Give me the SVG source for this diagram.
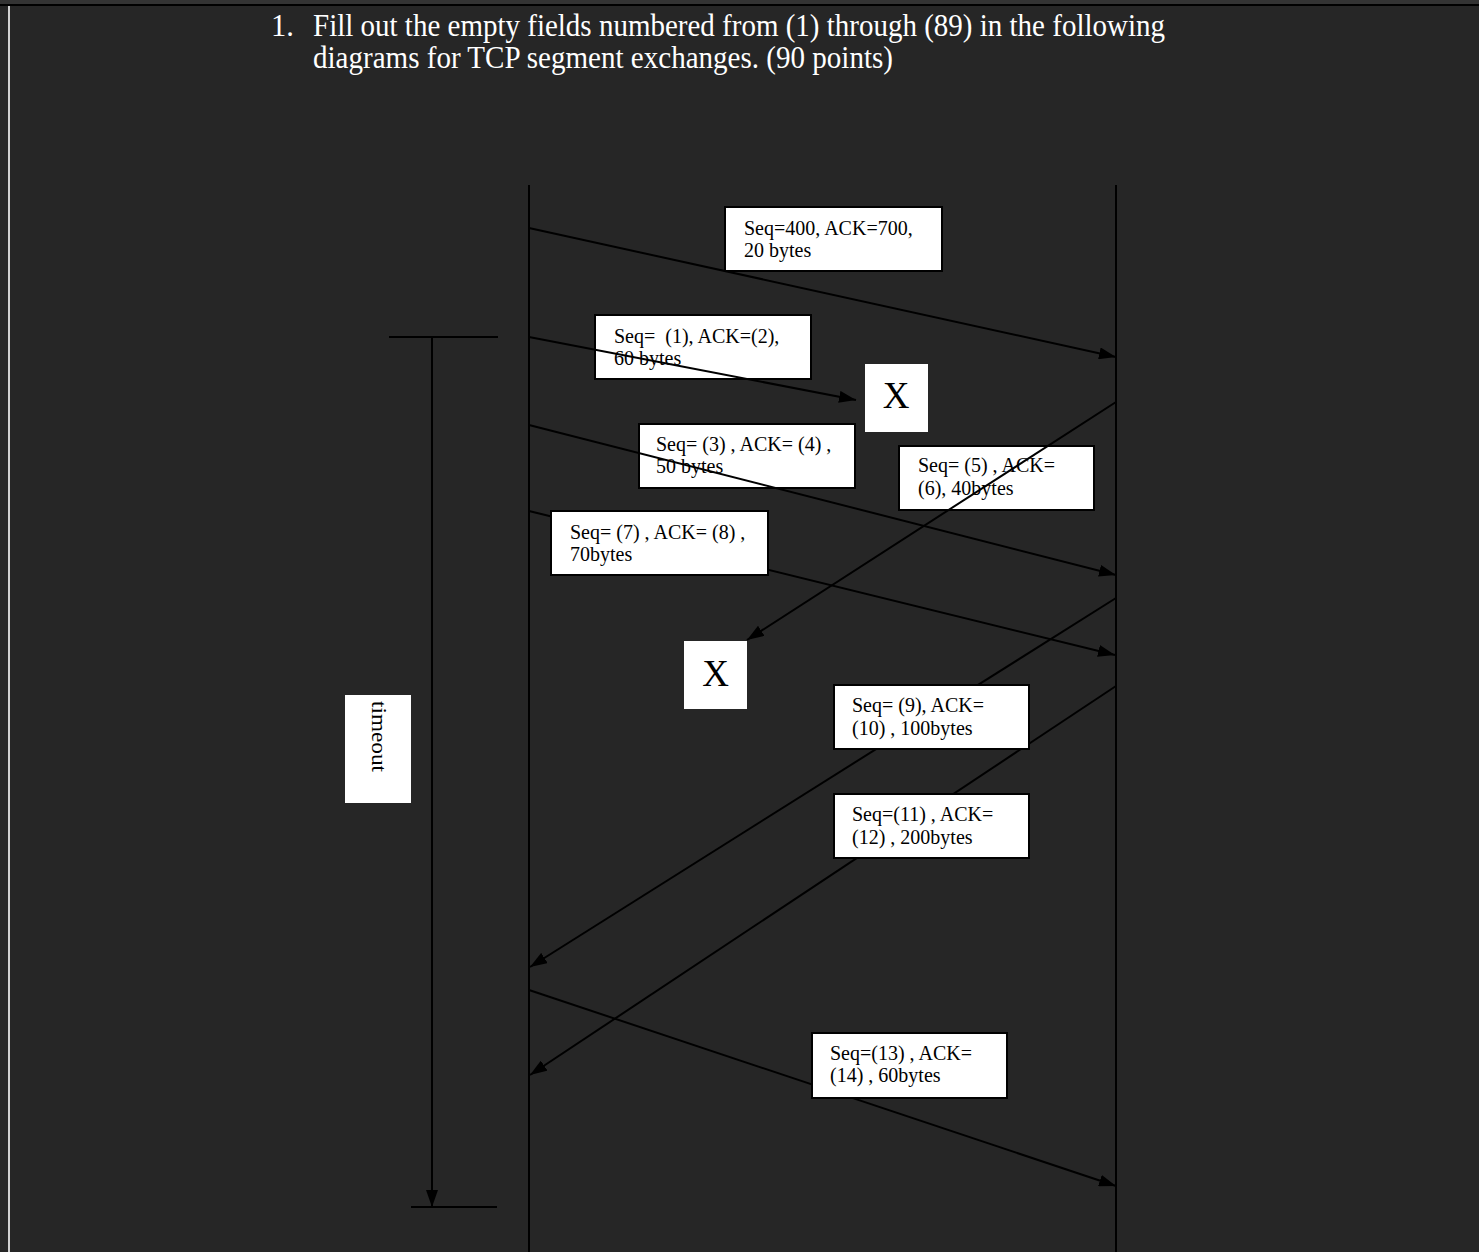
<svg xmlns="http://www.w3.org/2000/svg" width="1479" height="1252" viewBox="0 0 1479 1252">
<defs>
<marker id="ah" markerWidth="17" markerHeight="12" refX="17" refY="6" orient="auto" markerUnits="userSpaceOnUse"><path d="M0,0 L17,6 L0,12 z" fill="#000"/></marker>
<style>
.title{font-family:"Liberation Serif","Times New Roman",serif;font-size:30.5px;fill:#ffffff;}
.box{fill:#ffffff;stroke:#000;stroke-width:2;}
.xbox{fill:#ffffff;stroke:none;}
.lbl{font-family:"Liberation Serif","Times New Roman",serif;font-size:20px;fill:#000;white-space:pre;}
.xl{font-family:"Liberation Serif","Times New Roman",serif;font-size:37px;fill:#000;text-anchor:middle;}
.ln{stroke:#000;stroke-width:2;fill:none;}
.arr{stroke:#000;stroke-width:2;fill:none;marker-end:url(#ah);}
</style>
</defs>
<rect x="0" y="0" width="1479" height="1252" fill="#262626"/>
<rect x="0" y="0" width="1479" height="4" fill="#333333"/>
<rect x="0" y="4" width="1479" height="2" fill="#000"/>
<rect x="8" y="6" width="2" height="1246" fill="#d0d0d0"/>
<g id="title">
<text class="title" x="271" y="36">1.</text>
<text class="title" x="313" y="36" textLength="852" lengthAdjust="spacingAndGlyphs">Fill out the empty fields numbered from (1) through (89) in the following</text>
<text class="title" x="313" y="68" textLength="580" lengthAdjust="spacingAndGlyphs">diagrams for TCP segment exchanges. (90 points)</text>
</g>
<g id="lifelines">
<line class="ln" x1="529" y1="185" x2="529" y2="1252"/>
<line class="ln" x1="1116" y1="185" x2="1116" y2="1252"/>
</g>
<g id="timeout">
<line class="ln" x1="389" y1="337" x2="498" y2="337"/>
<line class="ln" x1="411" y1="1207" x2="497" y2="1207"/>
<line class="arr" x1="432" y1="337" x2="432" y2="1207"/>
<rect class="xbox" x="345" y="695" width="66" height="108"/>
<text class="lbl" x="0" y="0" font-size="21" transform="translate(372,701) rotate(90)" textLength="71" lengthAdjust="spacingAndGlyphs">timeout</text>
</g>
<g id="seg0">
<rect class="box" x="725" y="207" width="217" height="64"/>
<text class="lbl" x="744" y="235">Seq=400, ACK=700,</text>
<text class="lbl" x="744" y="257">20 bytes</text>
</g>
<g id="seg1">
<rect class="box" x="595" y="315" width="216" height="64"/>
<text class="lbl" x="614" y="343">Seq=  (1), ACK=(2),</text>
<text class="lbl" x="614" y="365">60 bytes</text>
</g>
<g id="lost1">
<rect class="xbox" x="865" y="364" width="63" height="68"/>
<text class="xl" x="896" y="408">X</text>
</g>
<g id="seg3">
<rect class="box" x="639" y="424" width="216" height="64"/>
<text class="lbl" x="656" y="451">Seq= (3) , ACK= (4) ,</text>
<text class="lbl" x="656" y="473">50 bytes</text>
</g>
<g id="seg5">
<rect class="box" x="899" y="446" width="195" height="64"/>
<text class="lbl" x="918" y="472">Seq= (5) , ACK=</text>
<text class="lbl" x="918" y="495">(6), 40bytes</text>
</g>
<g id="lost2">
<rect class="xbox" x="684" y="641" width="63" height="68"/>
<text class="xl" x="715.5" y="686">X</text>
</g>
<g id="connectors">
<line class="arr" x1="529" y1="228" x2="1116" y2="357"/>
<line class="arr" x1="529" y1="337" x2="856" y2="400"/>
<line class="arr" x1="529" y1="425" x2="1116" y2="575"/>
<line class="arr" x1="1116" y1="402" x2="747" y2="640"/>
<line class="arr" x1="529" y1="511" x2="1115" y2="655"/>
<line class="arr" x1="1116" y1="598" x2="530" y2="967"/>
<line class="arr" x1="1116" y1="686" x2="530" y2="1075"/>
<line class="arr" x1="529" y1="990" x2="1116" y2="1186"/>
</g>
<g id="seg7">
<rect class="box" x="551" y="511" width="217" height="64"/>
<text class="lbl" x="570" y="539">Seq= (7) , ACK= (8) ,</text>
<text class="lbl" x="570" y="561">70bytes</text>
</g>
<g id="seg9">
<rect class="box" x="834" y="685" width="195" height="64"/>
<text class="lbl" x="852" y="712">Seq= (9), ACK=</text>
<text class="lbl" x="852" y="735">(10) , 100bytes</text>
</g>
<g id="seg11">
<rect class="box" x="834" y="794" width="195" height="64"/>
<text class="lbl" x="852" y="821">Seq=(11) , ACK=</text>
<text class="lbl" x="852" y="844">(12) , 200bytes</text>
</g>
<g id="seg13">
<rect class="box" x="812" y="1033" width="195" height="65"/>
<text class="lbl" x="830" y="1060">Seq=(13) , ACK=</text>
<text class="lbl" x="830" y="1082">(14) , 60bytes</text>
</g>
</svg>
